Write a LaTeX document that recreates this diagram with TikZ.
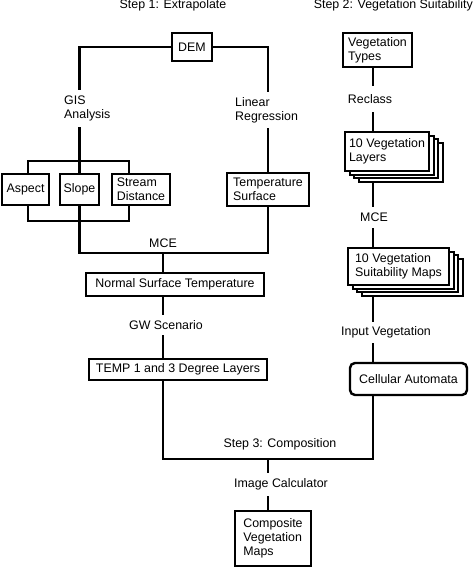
\documentclass[tikz,border=0pt]{standalone}
\usepackage{fontspec}
\setmainfont{Liberation Sans}
\usetikzlibrary{shadows}

\begin{document}
\begin{tikzpicture}[x=1pt,y=-1pt,
    every node/.style={font=\fontsize{12.4}{14.2}\selectfont},
    box/.style={draw,line width=2.4pt,fill=white,inner sep=0pt,align=left},
    layers/.style={box,
      copy shadow={shadow xshift=13.5pt,shadow yshift=-11pt,line width=2pt},
      copy shadow={shadow xshift=9pt,shadow yshift=-7.4pt,line width=2pt},
      copy shadow={shadow xshift=4.5pt,shadow yshift=-3.7pt,line width=2pt}},
    conn/.style={line width=2.2pt},
    steplabel/.style={fill=white,inner xsep=1pt,align=left}]
                \useasboundingbox (0,0) rectangle (474,567);

                % Titles
                \node[anchor=base] (step1) at (173,9) {Step 1: Extrapolate};
                \node[anchor=base east,inner xsep=0pt] (step2) at (473,9) {Step 2: Vegetation Suitability};

                % Step 1 boxes
                \node[box,minimum width=40pt,minimum height=28pt] (dem) at (192,47) {DEM};
                \node[box,minimum width=47pt,minimum height=31pt] (aspect) at (25.5,189.5) {Aspect};
                \node[box,minimum width=39pt,minimum height=31pt] (slope) at (79.5,189.5) {Slope};
                \node[box,minimum width=58pt,minimum height=31pt] (stream) at (141,189.5) {Stream\\Distance};
                \node[box,minimum width=82pt,minimum height=33pt] (tsurf) at (268,189.5) {Temperature\\Surface};
                \node[box,minimum width=178pt,minimum height=23pt] (nst) at (175,284.5) {Normal Surface Temperature};
                \node[box,minimum width=178pt,minimum height=21pt] (temp13) at (178,369.5) {TEMP 1 and 3 Degree Layers};

                % Step 2 boxes
                \node[box,minimum width=69pt,minimum height=34pt] (vegtypes) at (377.5,50) {Vegetation\\Types};
                \node[layers,minimum width=84pt,minimum height=39pt] (veglayers) at (387,151.5) {10 Vegetation\\Layers};
                \node[layers,minimum width=101pt,minimum height=37pt] (suitmaps) at (398.5,266.5) {10 Vegetation\\Suitability Maps};
                \node[box,rounded corners=5pt,minimum width=117pt,minimum height=32pt] (cellular) at (408.5,379) {Cellular Automata};

                % Step 3 box
                \node[box,minimum width=76pt,minimum height=55pt] (composite) at (273,538.5) {Composite\\Vegetation\\Maps};

                % Junctions
                \coordinate (gisjoin) at (79.5,161);
                \coordinate (toplt) at (28,161);
                \coordinate (toprt) at (129,161);
                \coordinate (botlt) at (28,221);
                \coordinate (botrt) at (129,221);
                \coordinate (mcejoin) at (79.5,253);
                \coordinate (compjoin) at (268,459);
                \coordinate (lcol) at (163,0);
                \coordinate (rcol) at (373,0);
                \coordinate (veglayersbot) at ([yshift=-11pt]veglayers.south);
                \coordinate (suitmapsbot) at ([yshift=-11pt]suitmaps.south);

                % Step 1 connectors
                \draw[conn] (dem.west) -| (gisjoin) -- (slope.north);
                \draw[conn] (dem.east) -| (tsurf.north);
                \draw[conn] (aspect.north -| toplt) |- (toprt) -- (stream.north -| toprt);
                \draw[conn] (aspect.south -| botlt) |- (botrt) -- (stream.south -| botrt);
                \draw[conn] (slope.south) -- (mcejoin) -| (tsurf.south);
                \draw[conn] (mcejoin -| lcol) -- (nst.north -| lcol);
                \draw[conn] (nst.south -| lcol) -- (temp13.north -| lcol);

                % Step 2 connectors
                \draw[conn] (vegtypes.south -| rcol) -- (veglayers.north -| rcol);
                \draw[conn] (veglayersbot -| rcol) -- (suitmaps.north -| rcol);
                \draw[conn] (suitmapsbot -| rcol) -- (cellular.north -| rcol);

                % Step 3 connectors
                \draw[conn] (temp13.south -| lcol) |- (compjoin) -| (cellular.south -| rcol);
                \draw[conn] (compjoin) -- (compjoin |- composite.north);

                % Labels on the connectors
                \node[steplabel,inner ysep=5.8pt,anchor=west] (gis) at (63,108.5) {GIS\\Analysis};
                \node[steplabel,inner ysep=5.3pt,anchor=west] (linreg) at (234,110) {Linear\\Regression};
                \node[anchor=base] (mceleft) at (163,247.5) {MCE};
                \node[steplabel,inner ysep=5.7pt] (gw) at (166,325) {GW Scenario};
                \node[steplabel,inner ysep=8.5pt] (reclass) at (370,99) {Reclass};
                \node[steplabel,inner ysep=6.2pt] (mceright) at (374,217.5) {MCE};
                \node[steplabel,inner ysep=4.9pt] (inputveg) at (386,332.5) {Input Vegetation};
                \node[anchor=base] (step3) at (280,447.5) {Step 3: Composition};
                \node[steplabel,inner ysep=5.9pt] (imgcalc) at (281,484.5) {Image Calculator};
            \end{tikzpicture}
\end{document}
